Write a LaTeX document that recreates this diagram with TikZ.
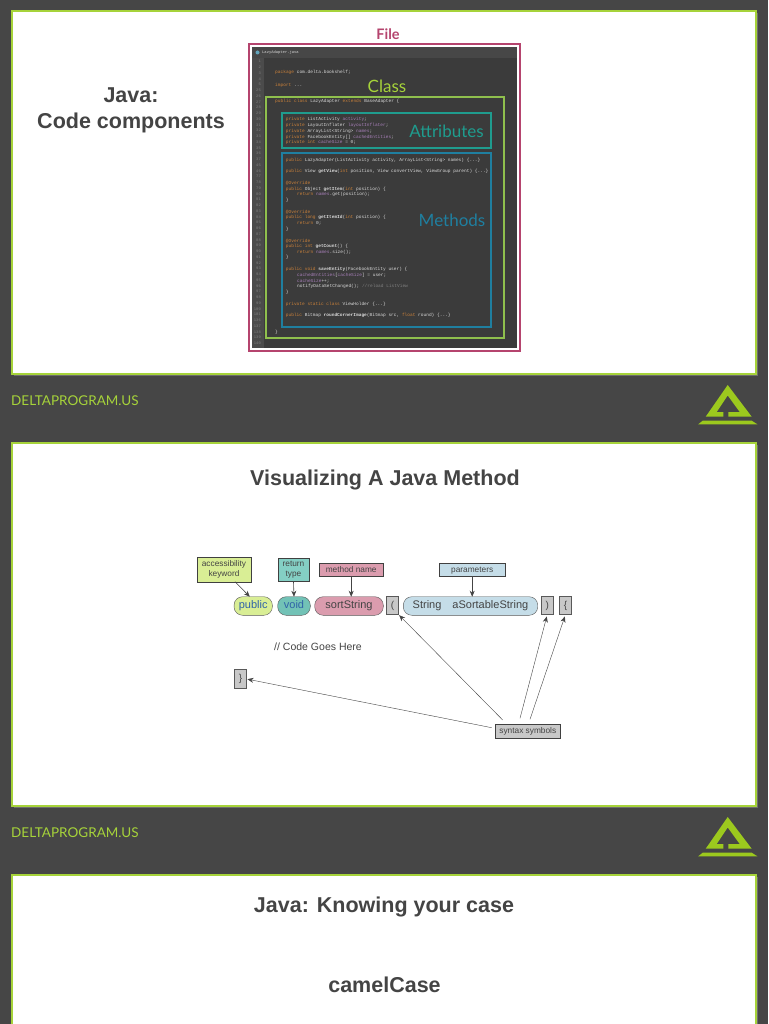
\documentclass[tikz,border=0pt]{standalone}
\usepackage{fontspec}
\setmainfont{Liberation Sans}
\newfontfamily\labelfont{Lato}
\setmonofont{Liberation Mono}
\usetikzlibrary{shadows,arrows.meta}
\definecolor{slidebg}{HTML}{464646}
\definecolor{lime}{HTML}{A6D33A}
\definecolor{logolime}{HTML}{9CC91E}
\definecolor{ink}{HTML}{444444}
\definecolor{filepink}{HTML}{B5446E}
\definecolor{classgreen}{HTML}{8FBF4D}
\definecolor{attrteal}{HTML}{1F9C8E}
\definecolor{methblue}{HTML}{1F7FA0}
\definecolor{panelgray}{HTML}{3B3B3B}
\definecolor{keyfill}{HTML}{D9EE95}
\definecolor{typefill}{HTML}{84CFC4}
\definecolor{voidfill}{HTML}{72C2B6}
\definecolor{namefill}{HTML}{DB9CAE}
\definecolor{paramfill}{HTML}{C5DDE8}
\definecolor{symfill}{HTML}{C8C8C8}
\definecolor{wordblue}{HTML}{2F62A8}
\definecolor{kworange}{HTML}{C9803A}
\definecolor{codegray}{HTML}{D8D8D8}
\definecolor{fieldpurple}{HTML}{A77FB8}
\newcommand{\kw}[1]{\textcolor{kworange}{#1}}
\newcommand{\fd}[1]{\textcolor{fieldpurple}{#1}}
\tikzset{
  slide/.style={draw=lime,line width=2.4pt,fill=white,drop shadow={shadow xshift=1.5pt,shadow yshift=-2pt,opacity=0.7}},
  title/.style={text=ink,font=\fontsize{21.5}{25.5}\selectfont\bfseries,align=center},
  footer/.style={text=lime,font=\labelfont\fontsize{13.5}{16}\selectfont,anchor=west,inner sep=0pt},
  code/.style={text=codegray,font=\ttfamily\fontsize{4.5}{5}\selectfont,anchor=west,inner sep=0pt},
  gutter/.style={text=gray,font=\ttfamily\fontsize{3.8}{4}\selectfont,anchor=east,inner sep=0pt},
  region/.style={draw,line width=2pt,inner sep=0pt,outer sep=0pt},
  tag/.style={text=#1,font=\labelfont\fontsize{17}{20}\selectfont,inner sep=0pt},
  labelbox/.style={draw=black!75,fill=#1,inner sep=0pt,outer sep=0pt,align=center,font=\fontsize{8.3}{10.5}\selectfont,text=ink},
  oneline/.style={text height=6.6pt,text depth=1.2pt},
  pill/.style={draw=black!65,fill=#1,rounded corners=8.5pt,inner sep=0pt,outer sep=0pt,minimum height=18.6pt,text height=8pt,text depth=2.5pt,font=\fontsize{11}{13}\selectfont,text=ink},
  symbox/.style={draw=black!65,fill=symfill,inner sep=0pt,outer sep=0pt,minimum width=12pt,minimum height=18pt,font=\fontsize{10}{12}\selectfont,text=ink},
  logo/.pic={
    \fill[logolime] (0,0) -- (24,31.7) -- (0.7,31.7) -- (0.7,27) -- (12,27) -- (0,10.5) -- (-11,27) -- (-4.3,27) -- (-4.3,31.7) -- (-22,31.7) -- cycle;
    \fill[logolime] (-29.5,39.3) -- (-25,35.7) -- (24,35.7) -- (29.7,39.3) -- cycle;
  }
}
\begin{document}
\begin{tikzpicture}[x=1pt,y=-1pt,>={Stealth[length=6pt,width=5pt]}]
\useasboundingbox[fill=slidebg] (0,0) rectangle (768,1024);
\foreach \dy/\nm in {0/a,432/b,864/c}{
  \path[slide] (12,11+\dy) rectangle (756,374+\dy);
}
\foreach \dy/\nm in {0/a,432/b}{
  \node[footer] (footer\nm) at (11,400.5+\dy) {DELTAPROGRAM.US};
  \pic at (727.7,385+\dy) {logo};
}

\node[title] (javaHead) at (131,110.5) {Java:\\Code components};
\node[text=filepink,font=\labelfont\bfseries\fontsize{14.5}{16}\selectfont] (fileTag) at (388,34) {File};

\fill[white] (249,44) rectangle (520,351);
\fill[panelgray] (252,47) rectangle (517,348);
\fill[black!72] (252,47) rectangle (517,58);
\fill[panelgray!92!white] (252,58) rectangle (264,348);
\fill[methblue!70] (257.5,52.5) circle (2pt);
\node[code,font=\ttfamily\fontsize{3.8}{4}\selectfont] (tabName) at (262,52.5) {LazyAdapter.java};

\foreach \num [count=\ni from 0] in {1,2,3,4,5,25,26,27,28,29,30,31,32,33,34,35,36,37,45,46,77,78,79,80,81,82,83,84,85,86,87,88,89,90,91,92,93,94,95,96,97,98,99,100,101,136,137,138,139,140}{
  \node[gutter] (num\ni) at (261,61.7+5.75*\ni) {\num};
}

\node[code] (c1) at (275,72.7) {\kw{package} com.delta.bookshelf;};
\node[code] (c2) at (275,85) {\kw{import} ...};
\node[code] (c3) at (275,101.7) {\kw{public class} LazyAdapter \kw{extends} BaseAdapter \{};
\node[code] (c4) at (285.7,119) {\kw{private} ListActivity \fd{activity};};
\node[code] (c5) at (285.7,125) {\kw{private} LayoutInflater \fd{layoutInflater};};
\node[code] (c6) at (285.7,131) {\kw{private} ArrayList<String> \fd{names};};
\node[code] (c7) at (285.7,137) {\kw{private} FacebookEntity[] \fd{cachedEntities};};
\node[code] (c8) at (285.7,142.5) {\kw{private int} \fd{cacheSize} = 0;};
\node[code] (c9) at (285.7,160) {\kw{public} LazyAdapter(ListActivity activity, ArrayList<String> names) \{...\}};
\node[code] (c10) at (285.7,171) {\kw{public} View \textbf{getView}(\kw{int} position, View convertView, ViewGroup parent) \{...\}};
\node[code] (c11) at (285.7,183) {\kw{@Override}};
\node[code] (c12) at (285.7,189) {\kw{public} Object \textbf{getItem}(\kw{int} position) \{};
\node[code] (c13) at (297,194.5) {\kw{return} \fd{names}.get(position);};
\node[code] (c14) at (285.7,200) {\}};
\node[code] (c15) at (285.7,212) {\kw{@Override}};
\node[code] (c16) at (285.7,217.5) {\kw{public long} \textbf{getItemId}(\kw{int} position) \{};
\node[code] (c17) at (297,223) {\kw{return} 0;};
\node[code] (c18) at (285.7,229) {\}};
\node[code] (c19) at (285.7,241) {\kw{@Override}};
\node[code] (c20) at (285.7,246.5) {\kw{public int} \textbf{getCount}() \{};
\node[code] (c21) at (297,252) {\kw{return} \fd{names}.size();};
\node[code] (c22) at (285.7,257.5) {\}};
\node[code] (c23) at (285.7,269) {\kw{public void} \textbf{saveEntity}(FacebookEntity user) \{};
\node[code] (c24) at (297,275) {\fd{cachedEntities}[\fd{cacheSize}] = user;};
\node[code] (c25) at (297,281) {\fd{cacheSize}++;};
\node[code] (c26) at (297,286.5) {notifyDataSetChanged(); \textcolor{gray}{//reload ListView}};
\node[code] (c27) at (285.7,292) {\}};
\node[code] (c28) at (285.7,304) {\kw{private static class} ViewHolder \{...\}};
\node[code] (c29) at (285.7,315.5) {\kw{public} Bitmap \textbf{roundCornerImage}(Bitmap src, \kw{float} round) \{...\}};
\node[code] (c30) at (275,332) {\}};

\node[region,draw=filepink,minimum width=271pt,minimum height=307pt] (fileBox) at (384.5,197.5) {};
\node[region,draw=classgreen,minimum width=238.3pt,minimum height=241pt] (classBox) at (385.2,217.2) {};
\node[region,draw=attrteal,minimum width=208.7pt,minimum height=34.4pt] (attrBox) at (386.7,130.5) {};
\node[region,draw=methblue,minimum width=208.7pt,minimum height=173.4pt] (methBox) at (386.7,240) {};
\node[tag=lime] (classTag) at (387,86) {Class};
\node[tag=attrteal] (attrTag) at (446.5,131) {Attributes};
\node[tag=methblue] (methTag) at (452,220) {Methods};

\node[title] (methodHead) at (385,480) {Visualizing A Java Method};
\node[labelbox=keyfill,minimum width=53.4pt,minimum height=24.4pt] (keyLabel) at (224,569.5) {accessibility\\keyword};
\node[labelbox=typefill,minimum width=31.6pt,minimum height=23.7pt] (typeLabel) at (293.5,569.8) {return\\type};
\node[labelbox=namefill,oneline,minimum width=64.3pt,minimum height=13.3pt] (nameLabel) at (351.2,569.4) {method name};
\node[labelbox=paramfill,oneline,minimum width=65.7pt,minimum height=13.3pt] (paramLabel) at (472.2,569.4) {parameters};

\node[pill=keyfill,minimum width=38.3pt,text=wordblue] (publicWord) at (253.2,606) {public};
\node[pill=voidfill,minimum width=32.6pt,text=wordblue] (voidWord) at (294,606) {void};
\node[pill=namefill,minimum width=68.6pt] (sortString) at (349,606) {sortString};
\node[symbox] (openParen) at (392.5,605.5) {(};
\node[pill=paramfill,minimum width=134.4pt] (paramWord) at (470.5,606) {String\hspace{11pt}aSortableString};
\node[symbox] (closeParen) at (547.3,605.5) {)};
\node[symbox] (openBrace) at (565.5,605.5) {\{};
\node[text=ink,font=\fontsize{10.5}{12}\selectfont,inner sep=0pt] (codeHere) at (318,646.3) {// Code Goes Here};
\node[symbox,minimum height=19pt] (closeBrace) at (240.5,679) {\}};
\node[labelbox=symfill,oneline,minimum width=65.7pt,minimum height=14.3pt] (syntaxLabel) at (527.8,731) {syntax symbols};

\coordinate (syntaxA) at (502.7,720);
\coordinate (syntaxB) at (520,718.3);
\coordinate (syntaxC) at (530,719.3);
\coordinate (syntaxD) at (491.7,727.7);

\path[draw,semithick,->,ink] (keyLabel.-48) -- (publicWord.110);
\path[draw,semithick,->,ink] (typeLabel.south) -- (voidWord.north);
\path[draw,semithick,->,ink] (nameLabel.south) -- (nameLabel.south |- sortString.north);
\path[draw,semithick,->,ink] (paramLabel.south) -- (paramLabel.south |- paramWord.north);
\path[draw,->,ink,shorten >=1pt] (syntaxA) -- (openParen.south east);
\path[draw,->,ink,shorten >=2pt] (syntaxB) -- (closeParen.south);
\path[draw,->,ink,shorten >=2pt] (syntaxC) -- (openBrace.south);
\path[draw,->,ink,shorten >=1pt] (syntaxD) -- (closeBrace.east);

\node[title] (caseHead) at (384,906.5) {Java: Knowing your case};
\node[title] (camelWord) at (384.5,985) {camelCase};
\end{tikzpicture}
\end{document}
